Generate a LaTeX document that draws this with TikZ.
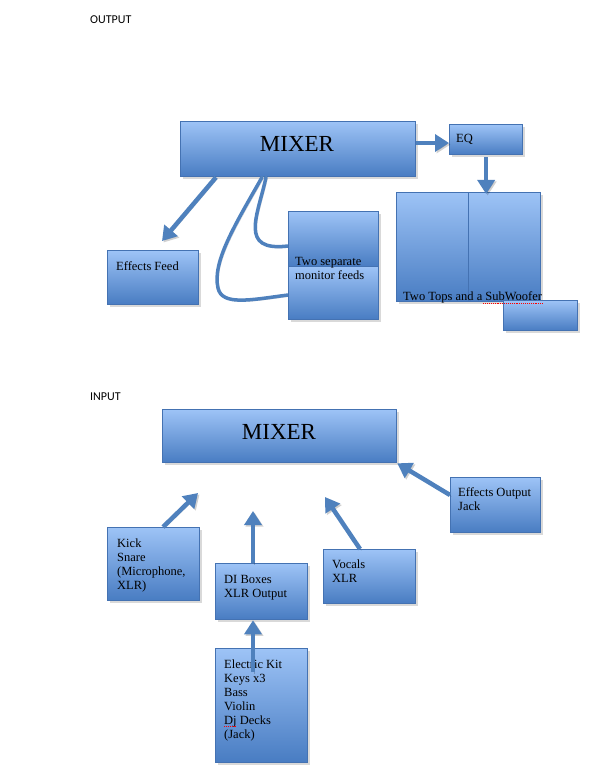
\documentclass[tikz,border=0pt]{standalone}
\usepackage{fontspec}
\setmainfont{Liberation Serif}
\newfontfamily\hdfont{Carlito}
\usetikzlibrary{arrows.meta,shadows,calc}
\definecolor{boxtop}{RGB}{157,195,246}
\definecolor{boxbot}{RGB}{72,124,194}
\definecolor{boxline}{RGB}{68,114,178}
\definecolor{arr}{RGB}{79,129,189}
\begin{document}
\begin{tikzpicture}[x=1pt,y=-1pt,
 box/.style={draw=boxline, line width=1.3pt, top color=boxtop, bottom color=boxbot, anchor=north west, inner sep=0pt, drop shadow={shadow xshift=2.5pt, shadow yshift=-2.5pt, opacity=0.3}},
 txt/.style={anchor=base west, inner sep=0pt, align=left, font=\fontsize{12.5}{14}\selectfont},
 big/.style={font=\fontsize{23}{26}\selectfont, inner sep=0pt},
 hd/.style={anchor=base west, inner sep=0pt, font=\hdfont\fontsize{12}{14}\selectfont},
 shad/.style={preaction={draw=black, opacity=0.18, transform canvas={shift={(1.5pt,-1.5pt)}}}},
 arrow/.style={shad, draw=arr, line width=4.5pt, -{Triangle[length=14pt,width=17pt]}},
 cable/.style={shad, draw=arr, line width=3.5pt, line cap=round},
 spell/.style={draw=red, densely dotted, line width=0.9pt}
]
\useasboundingbox (0,0) rectangle (589,767);
% ---------- OUTPUT ----------
\node[hd] (out) at (90,24) {OUTPUT};
\node[box, minimum width=235pt, minimum height=55pt] (mixT) at (180,121) {};
\node[big] (mixTt) at (297,144) {MIXER};
\node[box, minimum width=73pt, minimum height=30pt] (eq) at (449,124) {};
\node[txt] (eqT) at (456,143) {EQ};
\node[box, minimum width=72pt, minimum height=109pt] (spkL) at (396,192) {};
\node[box, minimum width=72pt, minimum height=109pt] (spkR) at (468,192) {};
\node[box, minimum width=74pt, minimum height=30pt] (sub) at (503,300) {};
\node[txt] (spkT) at (403,300) {Two Tops and a SubWoofer};
\draw[spell] (spkT.base east) ++(-59,3) -- ++(59,0);
\node[box, minimum width=91pt, minimum height=54pt] (eff) at (107,250) {};
\node[txt] (effT) at (116,270) {Effects Feed};
\draw[cable] ([xshift=86pt]mixT.south west) .. controls (258,215) and (238,252) .. (288,246);
\draw[cable] ([xshift=82pt]mixT.south west) .. controls (235,225) and (212,262) .. (218,288) .. controls (222,306) and (250,300) .. (288,295);
\node[box, minimum width=90pt, minimum height=55pt] (monA) at (288,211) {};
\node[box, minimum width=90pt, minimum height=53pt] (monB) at (288,266) {};
\node[txt] (monT) at (295,279) {Two separate\\monitor feeds};
\draw[arrow] (mixT.east |- 0,143) -- (eq.west |- 0,143);
\draw[arrow] ([yshift=-2pt]eq.south) -- ([yshift=-2pt]eq.south |- spkR.north);
\draw[arrow] ([xshift=36pt]mixT.south west) -- ([xshift=55pt,yshift=9pt]eff.north west);
% ---------- INPUT ----------
\node[hd] (in) at (90,400) {INPUT};
\node[box, minimum width=234pt, minimum height=53pt] (mixB) at (162,409) {};
\node[big] (mixBt) at (279,432) {MIXER};
\node[box, minimum width=90pt, minimum height=55pt] (effO) at (450,477) {};
\node[txt] (effOT) at (458,510) {Effects Output\\Jack};
\draw[arrow] ([yshift=-18pt]effO.north west) -- (mixB.south east);
\node[box, minimum width=92pt, minimum height=73pt] (kick) at (107,527) {};
\node[txt] (kickT) at (117,589) {Kick\\Snare\\(Microphone,\\XLR)};
\coordinate (kickTo) at (198,493);
\draw[arrow] ([xshift=56pt]kick.north west) -- (kickTo);
\node[box, minimum width=92pt, minimum height=56pt] (di) at (215,563) {};
\node[txt] (diT) at (224,597) {DI Boxes\\XLR Output};
\coordinate (diTo) at (253,511);
\draw[arrow] ([xshift=38pt]di.north west) -- (diTo);
\node[box, minimum width=92pt, minimum height=54pt] (voc) at (323,549) {};
\node[txt] (vocT) at (332,582) {Vocals\\XLR};
\coordinate (vocTo) at (325,497);
\draw[arrow] ([xshift=37pt]voc.north west) -- (vocTo);
\node[box, minimum width=92pt, minimum height=114pt] (ek) at (215,648) {};
\node[txt] (ekT) at (224,738) {Electric Kit\\Keys x3\\Bass\\Violin\\Dj Decks\\(Jack)};
\draw[spell] (224,726.5) -- (236,726.5);
\draw[arrow] ([xshift=38pt, yshift=-24pt]ek.north west) -- ([xshift=38pt]di.south west);
\end{tikzpicture}
\end{document}
